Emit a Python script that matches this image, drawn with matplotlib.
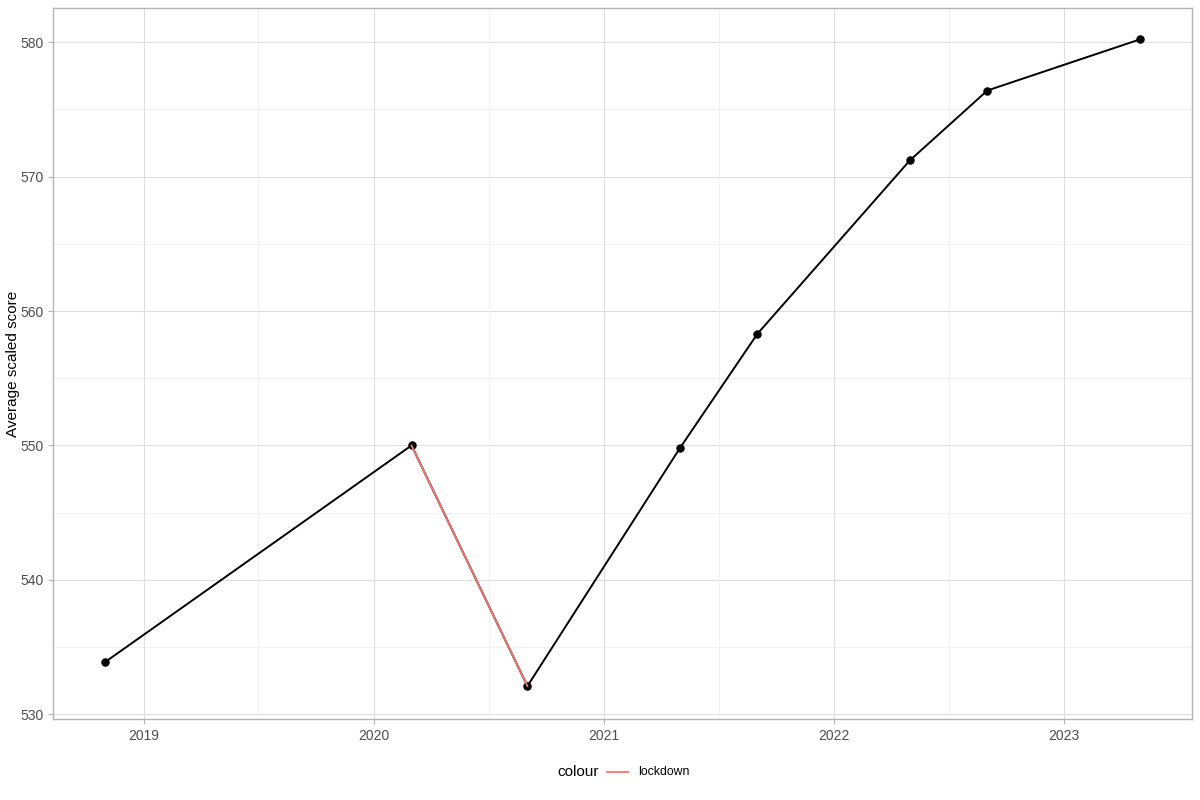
import numpy as np
import matplotlib
matplotlib.use('Agg')
import matplotlib.pyplot as plt
import matplotlib.dates as mdates
from matplotlib.lines import Line2D

# data
dates = ['2018-11-01', '2020-03-01', '2020-09-01', '2021-05-01',
         '2021-09-01', '2022-05-01', '2022-09-01', '2023-05-01']
scores = [533.9, 550.0, 532.1, 549.8, 558.3, 571.2, 576.4, 580.2]
lockdown_idx = [1, 2]          # segment flagged as lockdown
year_ticks = ['2019', '2020', '2021', '2022', '2023']
mid_years = ['2019-07-02', '2020-07-02', '2021-07-02', '2022-07-02']
y_major = [530, 540, 550, 560, 570, 580]
y_minor = [535, 545, 555, 565, 575]

x = mdates.date2num(np.array(dates, dtype='datetime64[D]'))
xt = mdates.date2num(np.array([y + '-01-01' for y in year_ticks], dtype='datetime64[D]'))
xm = mdates.date2num(np.array(mid_years, dtype='datetime64[D]'))

plt.rcParams['font.family'] = 'Liberation Sans'
fig = plt.figure(figsize=(12, 8), dpi=100)
ax = fig.add_axes([0.0442, 0.1012, 0.9492, 0.889])

# grid, theme_light style
for v in y_major:
    ax.axhline(v, color='#dedede', lw=0.8, zorder=0)
for v in y_minor:
    ax.axhline(v, color='#efefef', lw=0.6, zorder=0)
for v in xt:
    ax.axvline(v, color='#dedede', lw=0.8, zorder=0)
for v in xm:
    ax.axvline(v, color='#efefef', lw=0.6, zorder=0)

ax.plot(x, scores, color='black', lw=1.4, zorder=2)
ax.scatter(x, scores, s=26, color='black', zorder=3)
ax.plot(x[lockdown_idx], np.array(scores)[lockdown_idx], color='#F8766D', lw=1.3, zorder=4)

x0 = mdates.date2num(np.datetime64('2018-08-10'))
x1 = mdates.date2num(np.datetime64('2023-07-23'))
ax.set_xlim(x0, x1)
ax.set_ylim(529.65, 582.55)
ax.set_xticks(xt)
ax.set_xticklabels(year_ticks)
ax.set_yticks(y_major)
ax.set_yticklabels([str(v) for v in y_major])
ax.tick_params(colors='#b3b3b3', labelcolor='#4d4d4d', labelsize=10, length=3.5, width=0.8)
for s in ax.spines.values():
    s.set_color('#b3b3b3')
    s.set_linewidth(1.0)
ax.set_ylabel('Average scaled score', fontsize=11, color='black')
ax.yaxis.set_label_coords(-0.029, 0.5)

# legend at the bottom, ggplot style: title left of key
ly = 1 - 772 / 800
fig.text(557 / 1200, ly, 'colour', fontsize=11, ha='left', va='center')
fig.add_artist(Line2D([607 / 1200, 628 / 1200], [ly] * 2,
                      color='#F8766D', lw=1.3, transform=fig.transFigure))
fig.text(638 / 1200, ly, 'lockdown', fontsize=8.8, ha='left', va='center')

fig.savefig('out.png', dpi=100)
